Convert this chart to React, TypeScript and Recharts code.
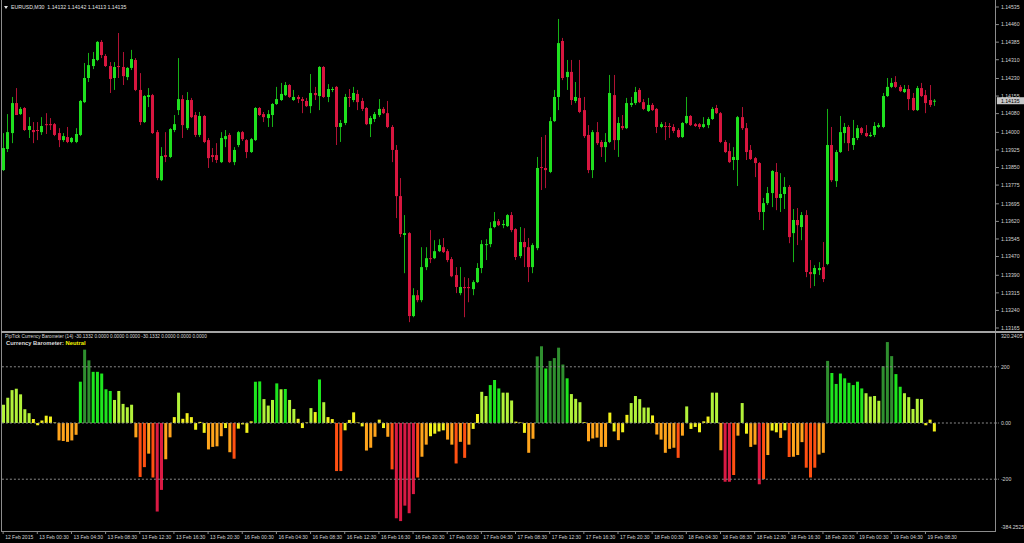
import React from 'react';
import { ComposedChart, Bar, Cell, XAxis, YAxis, ReferenceLine } from 'recharts';

// EURUSD M30 candles, 12 Feb 20:30 .. 19 Feb 09:30
const OPEN = [
  1.13839, 1.13929, 1.13997, 1.14125, 1.14078, 1.14104, 1.14010, 1.14010, 1.14010, 1.14001,
  1.14035, 1.14035, 1.14035, 1.13997, 1.13967, 1.13980, 1.13959, 1.13959, 1.13989, 1.14129,
  1.14232, 1.14283, 1.14309, 1.14386, 1.14326, 1.14283, 1.14232, 1.14283, 1.14279, 1.14236,
  1.14275, 1.14309, 1.14181, 1.14044, 1.14151, 1.14159, 1.14001, 1.13796, 1.13903, 1.13895,
  1.14010, 1.14095, 1.14142, 1.14018, 1.14138, 1.14074, 1.13989, 1.14070, 1.13967, 1.13903,
  1.13903, 1.13873, 1.13971, 1.13989, 1.13873, 1.13946, 1.14001, 1.13967, 1.13916, 1.13967,
  1.14104, 1.14078, 1.14061, 1.14074, 1.14121, 1.14138, 1.14159, 1.14202, 1.14138, 1.14151,
  1.14142, 1.14134, 1.14112, 1.14168, 1.14155, 1.14279, 1.14151, 1.14181, 1.14194, 1.14023,
  1.14040, 1.14151, 1.14138, 1.14164, 1.14134, 1.14104, 1.14035, 1.14057, 1.14074, 1.14100,
  1.14082, 1.14023, 1.13925, 1.13728, 1.13562, 1.13570, 1.13216, 1.13305, 1.13284, 1.13425,
  1.13463, 1.13463, 1.13493, 1.13510, 1.13493, 1.13459, 1.13391, 1.13314, 1.13340, 1.13340,
  1.13331, 1.13361, 1.13421, 1.13519, 1.13523, 1.13596, 1.13621, 1.13604, 1.13600, 1.13647,
  1.13587, 1.13472, 1.13532, 1.13510, 1.13425, 1.13506, 1.13852, 1.13848, 1.13831, 1.14048,
  1.14151, 1.14390, 1.14236, 1.14258, 1.14134, 1.14147, 1.14095, 1.13989, 1.13839, 1.14001,
  1.13959, 1.13937, 1.13959, 1.14159, 1.13967, 1.14027, 1.14018, 1.14117, 1.14125, 1.14181,
  1.14129, 1.14091, 1.14117, 1.14100, 1.14023, 1.14027, 1.14027, 1.14023, 1.14010, 1.13980,
  1.14040, 1.14070, 1.14035, 1.14035, 1.14023, 1.14031, 1.14057, 1.14104, 1.14082, 1.13959,
  1.13920, 1.13882, 1.13882, 1.14065, 1.14018, 1.13925, 1.13890, 1.13869, 1.13660, 1.13698,
  1.13741, 1.13831, 1.13720, 1.13737, 1.13767, 1.13570, 1.13626, 1.13596, 1.13647, 1.13404,
  1.13395, 1.13412, 1.13425, 1.13438, 1.13946, 1.13792, 1.13916, 1.13997, 1.14023, 1.13946,
  1.13976, 1.14018, 1.13997, 1.13984, 1.13989, 1.14023, 1.14023, 1.14155, 1.14194, 1.14215,
  1.14194, 1.14172, 1.14185, 1.14147, 1.14095, 1.14189, 1.14159, 1.14138, 1.14132,
];
const HIGH = [
  1.13997, 1.14078, 1.14151, 1.14189, 1.14108, 1.14108, 1.14065, 1.14044, 1.14044, 1.14065,
  1.14082, 1.14061, 1.14040, 1.14018, 1.13997, 1.14023, 1.13980, 1.14018, 1.14138, 1.14296,
  1.14339, 1.14343, 1.14390, 1.14394, 1.14334, 1.14300, 1.14300, 1.14424, 1.14343, 1.14279,
  1.14352, 1.14317, 1.14253, 1.14159, 1.14189, 1.14164, 1.14010, 1.13937, 1.14001, 1.14018,
  1.14074, 1.14317, 1.14159, 1.14172, 1.14147, 1.14087, 1.14087, 1.14074, 1.13976, 1.13933,
  1.13954, 1.14001, 1.14010, 1.13997, 1.13937, 1.14006, 1.14006, 1.13971, 1.13976, 1.14108,
  1.14108, 1.14087, 1.14095, 1.14125, 1.14194, 1.14211, 1.14215, 1.14206, 1.14181, 1.14159,
  1.14151, 1.14147, 1.14249, 1.14194, 1.14283, 1.14283, 1.14206, 1.14194, 1.14198, 1.14053,
  1.14164, 1.14185, 1.14194, 1.14181, 1.14147, 1.14108, 1.14070, 1.14087, 1.14142, 1.14108,
  1.14134, 1.14031, 1.13946, 1.13805, 1.13647, 1.13574, 1.13335, 1.13327, 1.13510, 1.13510,
  1.13583, 1.13540, 1.13544, 1.13549, 1.13502, 1.13468, 1.13425, 1.13425, 1.13382, 1.13378,
  1.13369, 1.13442, 1.13540, 1.13544, 1.13617, 1.13660, 1.13630, 1.13626, 1.13651, 1.13660,
  1.13591, 1.13596, 1.13591, 1.13549, 1.13527, 1.13895, 1.13980, 1.13989, 1.14065, 1.14181,
  1.14484, 1.14403, 1.14309, 1.14309, 1.14215, 1.14309, 1.14151, 1.14031, 1.14010, 1.14044,
  1.13967, 1.13997, 1.14245, 1.14245, 1.14065, 1.14074, 1.14147, 1.14151, 1.14194, 1.14189,
  1.14142, 1.14147, 1.14125, 1.14104, 1.14044, 1.14044, 1.14040, 1.14035, 1.14018, 1.14044,
  1.14151, 1.14074, 1.14040, 1.14040, 1.14065, 1.14065, 1.14108, 1.14117, 1.14087, 1.13967,
  1.13954, 1.13937, 1.14070, 1.14108, 1.14040, 1.13946, 1.13895, 1.13873, 1.13720, 1.13767,
  1.13839, 1.13869, 1.13826, 1.13809, 1.13775, 1.13673, 1.13677, 1.13660, 1.13668, 1.13455,
  1.13433, 1.13446, 1.13532, 1.14100, 1.14023, 1.13925, 1.14070, 1.14040, 1.14031, 1.14053,
  1.14031, 1.14023, 1.14031, 1.14001, 1.14044, 1.14040, 1.14168, 1.14232, 1.14232, 1.14240,
  1.14202, 1.14202, 1.14202, 1.14168, 1.14198, 1.14211, 1.14181, 1.14202, 1.14142,
];
const LOW = [
  1.13835, 1.13916, 1.13954, 1.14074, 1.14074, 1.14006, 1.13976, 1.13954, 1.13967, 1.13989,
  1.13993, 1.14010, 1.13984, 1.13937, 1.13959, 1.13954, 1.13954, 1.13954, 1.13984, 1.14125,
  1.14215, 1.14270, 1.14304, 1.14317, 1.14279, 1.14168, 1.14181, 1.14232, 1.14202, 1.14223,
  1.14266, 1.14176, 1.14031, 1.14040, 1.14108, 1.13993, 1.13796, 1.13792, 1.13873, 1.13890,
  1.14001, 1.14074, 1.13976, 1.14010, 1.14061, 1.13980, 1.13980, 1.13954, 1.13848, 1.13873,
  1.13869, 1.13869, 1.13937, 1.13869, 1.13860, 1.13937, 1.13963, 1.13890, 1.13912, 1.13963,
  1.14070, 1.14044, 1.14023, 1.14023, 1.14117, 1.14134, 1.14155, 1.14147, 1.14134, 1.14125,
  1.14082, 1.14108, 1.14082, 1.14138, 1.14095, 1.14147, 1.14129, 1.14172, 1.13946, 1.13959,
  1.14031, 1.14108, 1.14129, 1.14095, 1.14091, 1.14031, 1.13980, 1.14044, 1.14065, 1.14078,
  1.14018, 1.13873, 1.13634, 1.13553, 1.13399, 1.13190, 1.13211, 1.13275, 1.13275, 1.13412,
  1.13442, 1.13459, 1.13489, 1.13485, 1.13446, 1.13382, 1.13314, 1.13305, 1.13211, 1.13275,
  1.13305, 1.13357, 1.13399, 1.13455, 1.13510, 1.13591, 1.13600, 1.13591, 1.13596, 1.13574,
  1.13455, 1.13463, 1.13425, 1.13361, 1.13399, 1.13497, 1.13754, 1.13762, 1.13826, 1.14044,
  1.14095, 1.14223, 1.14181, 1.14117, 1.14125, 1.14082, 1.13976, 1.13826, 1.13805, 1.13946,
  1.13895, 1.13873, 1.13954, 1.13925, 1.13895, 1.14010, 1.14014, 1.14108, 1.14117, 1.14125,
  1.14095, 1.14087, 1.14091, 1.13997, 1.14018, 1.13967, 1.13976, 1.13997, 1.13976, 1.13976,
  1.14035, 1.14027, 1.14023, 1.14014, 1.14018, 1.14018, 1.14053, 1.14078, 1.13954, 1.13912,
  1.13869, 1.13839, 1.13771, 1.14010, 1.13882, 1.13882, 1.13809, 1.13626, 1.13583, 1.13690,
  1.13681, 1.13668, 1.13660, 1.13673, 1.13527, 1.13446, 1.13519, 1.13540, 1.13382, 1.13335,
  1.13344, 1.13391, 1.13361, 1.13433, 1.13788, 1.13767, 1.13912, 1.13954, 1.13920, 1.13925,
  1.13967, 1.13989, 1.13980, 1.13980, 1.13980, 1.14018, 1.14018, 1.14151, 1.14189, 1.14189,
  1.14172, 1.14168, 1.14095, 1.14091, 1.14091, 1.14151, 1.14082, 1.14108, 1.14113,
];
const CLOSE = [
  1.13933, 1.14001, 1.14125, 1.14074, 1.14100, 1.14010, 1.14027, 1.14001, 1.14006, 1.14027,
  1.14031, 1.14031, 1.13989, 1.13967, 1.13984, 1.13959, 1.13976, 1.13993, 1.14134, 1.14232,
  1.14287, 1.14313, 1.14386, 1.14330, 1.14283, 1.14228, 1.14279, 1.14279, 1.14240, 1.14275,
  1.14313, 1.14181, 1.14044, 1.14155, 1.14159, 1.13997, 1.13805, 1.13899, 1.13895, 1.14014,
  1.14035, 1.14142, 1.14031, 1.14138, 1.14065, 1.13989, 1.14070, 1.13959, 1.13890, 1.13895,
  1.13882, 1.13976, 1.13984, 1.13873, 1.13925, 1.14001, 1.13971, 1.13916, 1.13971, 1.14104,
  1.14074, 1.14065, 1.14078, 1.14121, 1.14142, 1.14164, 1.14202, 1.14151, 1.14151, 1.14142,
  1.14134, 1.14112, 1.14168, 1.14159, 1.14279, 1.14151, 1.14185, 1.14185, 1.14023, 1.14040,
  1.14151, 1.14147, 1.14168, 1.14129, 1.14100, 1.14035, 1.14061, 1.14078, 1.14100, 1.14082,
  1.14023, 1.13925, 1.13728, 1.13566, 1.13570, 1.13216, 1.13305, 1.13284, 1.13425, 1.13463,
  1.13459, 1.13493, 1.13519, 1.13489, 1.13455, 1.13386, 1.13340, 1.13340, 1.13335, 1.13335,
  1.13361, 1.13421, 1.13523, 1.13523, 1.13591, 1.13621, 1.13604, 1.13609, 1.13647, 1.13583,
  1.13468, 1.13532, 1.13510, 1.13425, 1.13519, 1.13848, 1.13848, 1.13839, 1.14048, 1.14151,
  1.14381, 1.14232, 1.14258, 1.14138, 1.14151, 1.14087, 1.13984, 1.13839, 1.14001, 1.13954,
  1.13937, 1.13959, 1.14168, 1.13967, 1.14040, 1.14018, 1.14125, 1.14125, 1.14172, 1.14129,
  1.14100, 1.14117, 1.14095, 1.14023, 1.14035, 1.14023, 1.14023, 1.14006, 1.13980, 1.14040,
  1.14070, 1.14031, 1.14027, 1.14023, 1.14035, 1.14057, 1.14100, 1.14082, 1.13959, 1.13916,
  1.13873, 1.13895, 1.14065, 1.14018, 1.13916, 1.13886, 1.13869, 1.13660, 1.13698, 1.13741,
  1.13835, 1.13720, 1.13737, 1.13767, 1.13553, 1.13626, 1.13604, 1.13647, 1.13404, 1.13395,
  1.13421, 1.13421, 1.13374, 1.13946, 1.13796, 1.13916, 1.14001, 1.14023, 1.13954, 1.13976,
  1.14018, 1.13997, 1.13984, 1.13989, 1.14027, 1.14031, 1.14155, 1.14194, 1.14211, 1.14194,
  1.14176, 1.14185, 1.14142, 1.14095, 1.14189, 1.14155, 1.14125, 1.14117, 1.14135,
];

// PipTick Currency Barometer (14) values and their signal level (3 strong bull .. -3 strong bear)
const BARO = [
  65, 90, 117, 122, 102, 49, 35, 14, -8, 9,
  26, 23, 2, -62, -64, -67, -62, -42, 147, 261,
  223, 182, 182, 176, 120, 114, 82, 114, 68, 56,
  65, -51, -192, -157, -109, -194, -315, -238, -129, -51,
  21, 108, 15, 35, 21, -24, 4, -35, -94, -85,
  -83, -47, -18, -104, -127, -20, -5, -35, 6, 147,
  148, 85, 62, 82, 141, 120, 121, 82, 50, 15,
  -18, 2, 53, 39, 155, 74, 21, 14, -171, -171,
  -26, 11, 38, 2, -12, -98, -88, -49, 12, -18,
  -49, -165, -339, -349, -294, -321, -253, -194, -120, -77,
  -47, -38, -30, -26, -59, -77, -144, -67, -124, -77,
  -21, 32, 111, 96, 135, 153, 123, 108, 108, 80,
  5, 2, -35, -106, -56, 237, 273, 194, 221, 231,
  268, 208, 159, 103, 86, 74, 3, -65, -55, -52,
  -85, -85, 37, -30, -61, -33, 29, 71, 96, 85,
  55, 55, 27, -41, -59, -106, -92, -88, -124, -45,
  59, -21, -14, -33, 6, 23, 108, 108, -97, -209,
  -209, -185, -45, 71, -38, -85, -77, -218, -200, -114,
  -27, -33, -53, -26, -121, -120, -114, -68, -159, -194,
  -159, -112, -106, 221, 178, 139, 176, 159, 143, 135,
  147, 123, 106, 94, 96, 79, 202, 288, 238, 174,
  129, 106, 92, 50, 86, 85, -8, 12, -30.1332,
];
const LEVEL = [
  1, 1, 1, 1, 1, 1, 1, 0, 0, 0,
  0, 0, 0, -1, -1, -1, -1, -1, 2, 3,
  3, 2, 2, 2, 2, 2, 1, 1, 1, 1,
  1, -1, -2, -2, -1, -2, -3, -3, -1, -1,
  0, 1, 0, 0, 0, 0, 0, 0, -1, -1,
  -1, -1, 0, -1, -2, 0, 0, 0, 0, 2,
  2, 1, 1, 1, 2, 1, 2, 1, 1, 0,
  0, 0, 1, 0, 2, 1, 0, 0, -2, -2,
  0, 0, 0, 0, 0, -1, -1, -1, 0, 0,
  -1, -2, -3, -3, -3, -3, -3, -2, -1, -1,
  0, 0, 0, 0, -1, -1, -2, -1, -2, -1,
  0, 0, 1, 1, 2, 2, 2, 1, 1, 1,
  0, 0, 0, -1, -1, 3, 3, 2, 3, 3,
  3, 3, 2, 1, 1, 1, 0, -1, -1, -1,
  -1, -1, 0, 0, -1, 0, 0, 1, 1, 1,
  1, 1, 0, -1, -1, -1, -1, -1, -2, -1,
  1, 0, 0, 0, 0, 0, 1, 1, -1, -3,
  -3, -2, -1, 1, 0, -1, -1, -3, -2, -1,
  0, 0, -1, 0, -2, -1, -1, -1, -2, -2,
  -2, -1, -1, 3, 2, 2, 2, 2, 2, 2,
  2, 2, 1, 1, 1, 1, 3, 3, 3, 2,
  2, 1, 1, 1, 1, 1, 0, 0, 0,
];

const PRICE_TICKS = [
  1.14535, 1.1446, 1.14385, 1.1431, 1.1423, 1.14155, 1.1408, 1.14, 1.13925, 1.1385,
  1.13775, 1.13695, 1.1362, 1.13545, 1.1347, 1.1339, 1.13315, 1.1324, 1.13165,
];
const BARO_TICKS = [320.2405, 200, 0, -200, -384.2525];
const TIME_LABELS = [
  '12 Feb 2015', '13 Feb 00:30', '13 Feb 04:30', '13 Feb 08:30', '13 Feb 12:30', '13 Feb 16:30', '13 Feb 20:30',
  '16 Feb 00:30', '16 Feb 04:30', '16 Feb 08:30', '16 Feb 12:30', '16 Feb 16:30', '16 Feb 20:30',
  '17 Feb 00:30', '17 Feb 04:30', '17 Feb 08:30', '17 Feb 12:30', '17 Feb 16:30', '17 Feb 20:30',
  '18 Feb 00:30', '18 Feb 04:30', '18 Feb 08:30', '18 Feb 12:30', '18 Feb 16:30', '18 Feb 20:30',
  '19 Feb 00:30', '19 Feb 04:30', '19 Feb 08:30',
];
const LAST_PRICE = 1.14135;

const SLOTS = 233; // visible bar slots incl. empty space on the right
const BULL = '#1fe01f';
const BEAR = '#d8163f';
const BULL_WICK = '#16b016';
const BEAR_WICK = '#b01234';
const AXIS = '#8c8c8c';
const TEXT = '#d4d4d4';
const FONT = '"Liberation Sans", Arial, sans-serif';
const LEVEL_COLORS: Record<number, string> = {
  3: '#2f8f2f', 2: '#1ee61e', 1: '#b2f23a', 0: '#f2f21c', [-1]: '#ffa41c', [-2]: '#ff5012', [-3]: '#da1a44',
};

const rows = Array.from({ length: SLOTS }, (_, i) =>
  i < OPEN.length
    ? { i, open: OPEN[i], high: HIGH[i], low: LOW[i], close: CLOSE[i], range: [LOW[i], HIGH[i]], baro: BARO[i], level: LEVEL[i] }
    : { i }
);

const Candle = (props: any) => {
  const { x, y, width, height, payload } = props;
  if (!payload || payload.open == null) return <g />;
  const { open, high, low, close } = payload;
  const span = high - low || 1e-9;
  const toY = (v: number) => y + ((high - v) / span) * height;
  const up = close >= open;
  const rx = Math.round(x);
  const cx = rx + 1.5;
  const top = toY(Math.max(open, close));
  const bot = toY(Math.min(open, close));
  return (
    <g>
      <line x1={cx} x2={cx} y1={y} y2={y + height} stroke={up ? BULL_WICK : BEAR_WICK} strokeWidth={1} />
      <rect x={rx} y={top} width={width} height={Math.max(1, bot - top)} fill={up ? BULL : BEAR} />
    </g>
  );
};

const PriceTick = ({ x, y, payload }: any) => (
  <g>
    <line x1={x} x2={x + 3} y1={y} y2={y} stroke={AXIS} />
    <text x={x + 5} y={y + 1.8} fontSize={5.2} fill={TEXT} fontFamily={FONT}>{payload.value.toFixed(5)}</text>
  </g>
);

const baroLabel = (v: number) => (v === 0 ? '0.00' : Number.isInteger(v) ? String(v) : v.toFixed(4));

const BaroTick = ({ x, y, payload }: any) => {
  const v = payload.value;
  const dy = v > 300 ? 5 : v < -300 ? -2 : 1.8;
  return (
    <g>
      {Math.abs(v) < 300 && <line x1={x} x2={x + 3} y1={y} y2={y} stroke={AXIS} strokeDasharray="1 1" />}
      <text x={x + 5} y={y + dy} fontSize={5.2} fill={TEXT} fontFamily={FONT}>{baroLabel(v)}</text>
    </g>
  );
};

const TimeTick = ({ x, y, payload }: any) => (
  <g>
    <line x1={x} x2={x} y1={y} y2={y + 3} stroke={AXIS} />
    <text x={x + 2} y={y + 8} fontSize={5} fill={TEXT} fontFamily={FONT}>{TIME_LABELS[payload.value / 8]}</text>
  </g>
);

const PriceTag = ({ viewBox }: any) => {
  if (!viewBox) return null;
  const x = viewBox.x + viewBox.width;
  const y = viewBox.y;
  return (
    <g>
      <rect x={x + 1} y={y - 3.5} width={28} height={7} fill="#c8c8c8" />
      <text x={x + 5} y={y + 1.8} fontSize={5.2} fill="#000" fontFamily={FONT}>{LAST_PRICE.toFixed(5)}</text>
    </g>
  );
};

export default function App() {
  return (
    <div style={{ position: 'fixed', left: 0, top: 0, width: 1024, height: 543, background: '#000', overflow: 'hidden', fontFamily: FONT }}>
      {/* frame */}
      <div style={{ position: 'absolute', left: 1, top: 0, width: 1, height: 531, background: AXIS }} />
      <div style={{ position: 'absolute', left: 995, top: 0, width: 1, height: 531, background: AXIS }} />
      <div style={{ position: 'absolute', left: 1, top: 331, width: 1023, height: 2, background: '#a4a4a4' }} />
      <div style={{ position: 'absolute', left: 1, top: 531, width: 995, height: 1, background: AXIS }} />

      <div style={{ position: 'absolute', left: 0, top: 0 }}>
        <ComposedChart width={1024} height={335} data={rows} margin={{ top: 3, right: 0, bottom: 5, left: 1 }}>
          <XAxis dataKey="i" hide />
          <YAxis
            orientation="right"
            width={28.1}
            domain={[1.131565, 1.145521]}
            allowDataOverflow
            ticks={PRICE_TICKS}
            interval={0}
            axisLine={false}
            tickLine={false}
            tickSize={0}
            tickMargin={0}
            tick={<PriceTick />}
          />
          <Bar dataKey="range" barSize={3} shape={<Candle />} isAnimationActive={false} />
          <ReferenceLine y={LAST_PRICE} stroke="transparent" label={<PriceTag />} />
        </ComposedChart>
      </div>

      <div style={{ position: 'absolute', left: 0, top: 333 }}>
        <ComposedChart width={1024} height={210} data={rows} margin={{ top: 0, right: 0, bottom: 0, left: 1 }}>
          <XAxis
            dataKey="i"
            height={12}
            ticks={TIME_LABELS.map((_, k) => k * 8)}
            interval={0}
            axisLine={false}
            tickLine={false}
            tickSize={0}
            tickMargin={0}
            tick={<TimeTick />}
          />
          <YAxis
            orientation="right"
            width={28.1}
            domain={[-384.2525, 320.2405]}
            allowDataOverflow
            ticks={BARO_TICKS}
            interval={0}
            axisLine={false}
            tickLine={false}
            tickSize={0}
            tickMargin={0}
            tick={<BaroTick />}
          />
          <ReferenceLine y={200} stroke="#8a8a8a" strokeDasharray="2 2" />
          <ReferenceLine y={0} stroke="#8a8a8a" strokeDasharray="2 2" />
          <ReferenceLine y={-200} stroke="#8a8a8a" strokeDasharray="2 2" />
          <Bar dataKey="baro" barSize={3} isAnimationActive={false}>
            {rows.map((r: any) => (
              <Cell key={r.i} fill={r.level != null ? LEVEL_COLORS[r.level] : 'transparent'} />
            ))}
          </Bar>
        </ComposedChart>
      </div>

      {/* window titles */}
      <div style={{ position: 'absolute', left: 4, top: 6, width: 0, height: 0, borderLeft: '2.5px solid transparent', borderRight: '2.5px solid transparent', borderTop: '3px solid #e0e0e0' }} />
      <div style={{ position: 'absolute', left: 11, top: 5, fontSize: 5.2, lineHeight: 1, color: '#e4e4e4', whiteSpace: 'pre' }}>
        EURUSD,M30  1.14132 1.14142 1.14113 1.14135
      </div>
      <div style={{ position: 'absolute', left: 5, top: 334.5, fontSize: 4.7, lineHeight: 1, color: '#d8d8d8', whiteSpace: 'pre' }}>
        PipTick Currency Barometer (14) -30.1332 0.0000 0.0000 0.0000 -30.1332 0.0000 0.0000 0.0000
      </div>
      <div style={{ position: 'absolute', left: 6, top: 340.5, fontSize: 5.8, lineHeight: 1, fontWeight: 700, color: '#dcdcdc', whiteSpace: 'pre' }}>
        Currency Barometer: <span style={{ color: '#f5f500' }}>Neutral</span>
      </div>
    </div>
  );
}
